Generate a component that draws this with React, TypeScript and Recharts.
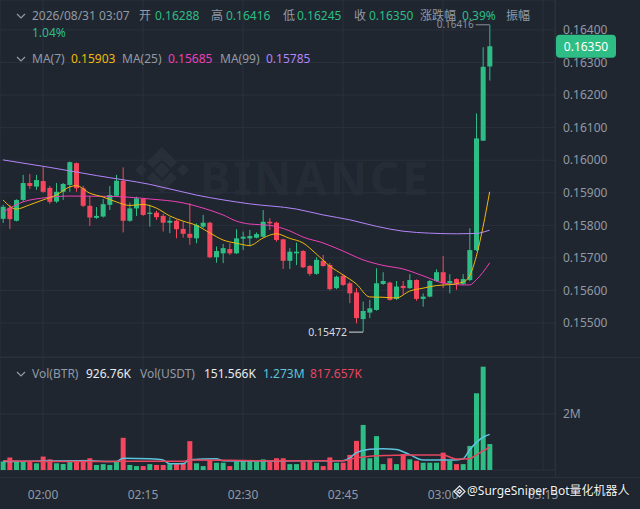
import React from "react"
import {
  Bar,
  CartesianGrid,
  Cell,
  ComposedChart,
  Line,
  ReferenceDot,
  XAxis,
  YAxis
} from "recharts"

const times = [
  "01:54", "01:55", "01:56", "01:57", "01:58", "01:59",
  "02:00", "02:01", "02:02", "02:03", "02:04", "02:05", "02:06", "02:07", "02:08", "02:09",
  "02:10", "02:11", "02:12", "02:13", "02:14", "02:15", "02:16", "02:17", "02:18", "02:19",
  "02:20", "02:21", "02:22", "02:23", "02:24", "02:25", "02:26", "02:27", "02:28", "02:29",
  "02:30", "02:31", "02:32", "02:33", "02:34", "02:35", "02:36", "02:37", "02:38", "02:39",
  "02:40", "02:41", "02:42", "02:43", "02:44", "02:45", "02:46", "02:47", "02:48", "02:49",
  "02:50", "02:51", "02:52", "02:53", "02:54", "02:55", "02:56", "02:57", "02:58", "02:59",
  "03:00", "03:01", "03:02", "03:03", "03:04", "03:05", "03:06", "03:07"
]

const opens = [
  0.1582, 0.15854, 0.15814, 0.15878, 0.1593, 0.15919, 0.15936, 0.15915, 0.15873, 0.15903,
  0.15924, 0.15991, 0.15914, 0.1586, 0.15823, 0.15827, 0.15863, 0.15891, 0.15937, 0.15814,
  0.15852, 0.15881, 0.15835, 0.15839, 0.15829, 0.15808, 0.15814, 0.15789, 0.15774, 0.1576,
  0.15796, 0.15808, 0.15702, 0.15714, 0.15727, 0.15714, 0.15759, 0.1576, 0.15762, 0.15765,
  0.15811, 0.15808, 0.15757, 0.15691, 0.15714, 0.15721, 0.15675, 0.15651, 0.15691, 0.15678,
  0.15607, 0.15645, 0.15622, 0.15594, 0.15512, 0.15532, 0.1554, 0.1562, 0.15624, 0.15574,
  0.15614, 0.15607, 0.15632, 0.15574, 0.15581, 0.15629, 0.15656, 0.15622, 0.15635, 0.1562,
  0.15632, 0.15724, 0.1606, 0.16288
]

const highs = [
  0.15863, 0.15863, 0.1588, 0.15955, 0.15958, 0.15955, 0.15979, 0.15921, 0.1593, 0.1593,
  0.15996, 0.15993, 0.15921, 0.1589, 0.15856, 0.15881, 0.15921, 0.15955, 0.15978, 0.1587,
  0.15888, 0.15884, 0.15863, 0.15845, 0.15835, 0.15825, 0.15818, 0.15811, 0.15868, 0.15806,
  0.15832, 0.15811, 0.15735, 0.15743, 0.15745, 0.15788, 0.15781, 0.15786, 0.15778, 0.15847,
  0.15822, 0.15811, 0.15759, 0.1573, 0.15747, 0.15724, 0.15678, 0.15702, 0.15709, 0.15684,
  0.15645, 0.15648, 0.15627, 0.15607, 0.15566, 0.15571, 0.15668, 0.15656, 0.15627, 0.15629,
  0.15629, 0.1565, 0.15634, 0.15591, 0.15632, 0.15665, 0.15706, 0.1565, 0.15637, 0.1565,
  0.15791, 0.16144, 0.16347, 0.16416
]

const lows = [
  0.15807, 0.15789, 0.15812, 0.15872, 0.15912, 0.15909, 0.159, 0.15866, 0.15869, 0.15878,
  0.15903, 0.15903, 0.15856, 0.15798, 0.1582, 0.15824, 0.15847, 0.15888, 0.15778, 0.15811,
  0.15829, 0.15829, 0.15796, 0.15817, 0.15781, 0.15776, 0.1576, 0.15762, 0.1574, 0.15745,
  0.15792, 0.15699, 0.15685, 0.15684, 0.15709, 0.15712, 0.15724, 0.15735, 0.1576, 0.15764,
  0.15786, 0.1575, 0.15666, 0.15666, 0.15678, 0.15669, 0.15645, 0.15648, 0.15673, 0.156,
  0.15604, 0.15614, 0.15561, 0.15499, 0.15472, 0.15515, 0.15538, 0.15617, 0.15569, 0.15571,
  0.15588, 0.15605, 0.15568, 0.1555, 0.15579, 0.15627, 0.15607, 0.15591, 0.15602, 0.15617,
  0.15629, 0.15721, 0.16059, 0.16245
]

const closes = [
  0.15857, 0.15819, 0.15878, 0.1593, 0.15921, 0.15939, 0.15903, 0.15872, 0.15903, 0.15927,
  0.15994, 0.15914, 0.1586, 0.15824, 0.15829, 0.15865, 0.15893, 0.15937, 0.15814, 0.15852,
  0.15883, 0.15832, 0.15839, 0.15825, 0.15808, 0.15814, 0.15788, 0.15774, 0.15762, 0.15801,
  0.15808, 0.15702, 0.15721, 0.1573, 0.15714, 0.1576, 0.15765, 0.15767, 0.15773, 0.15811,
  0.15806, 0.15755, 0.15691, 0.15719, 0.15719, 0.15671, 0.15651, 0.15694, 0.15675, 0.15604,
  0.15642, 0.15617, 0.15591, 0.15515, 0.15537, 0.15545, 0.15622, 0.15629, 0.15571, 0.15612,
  0.15607, 0.15632, 0.15574, 0.15581, 0.15629, 0.15656, 0.15622, 0.15629, 0.15622, 0.15635,
  0.15724, 0.16067, 0.16287, 0.1635
]

const volumes = [
  300000, 450000, 330000, 300000, 300000, 240000, 480000, 380000, 240000, 210000,
  300000, 300000, 360000, 420000, 180000, 210000, 180000, 300000, 1150000, 180000,
  140000, 140000, 210000, 180000, 180000, 210000, 210000, 260000, 1030000, 240000,
  140000, 360000, 260000, 260000, 140000, 300000, 330000, 330000, 300000, 380000,
  300000, 420000, 420000, 210000, 210000, 300000, 360000, 260000, 140000, 450000,
  260000, 260000, 540000, 1040000, 1610000, 420000, 1210000, 210000, 420000, 210000,
  570000, 380000, 330000, 260000, 260000, 260000, 620000, 330000, 210000, 210000,
  860000, 2740000, 3690000, 926760
]

// moving averages: [candle index, value]
const ma7Points = [
  [0, 0.15878], [2, 0.1585], [4, 0.15863], [6, 0.15878], [8, 0.15893], [10, 0.15918],
  [11, 0.15922], [13, 0.15899], [15, 0.15887], [17, 0.15872], [19, 0.15861], [21, 0.15864],
  [23, 0.15853], [25, 0.15829], [27, 0.15813], [29, 0.158], [31, 0.15777], [33, 0.15755],
  [35, 0.15745], [37, 0.15738], [39, 0.15761], [41, 0.15774], [43, 0.1576], [45, 0.15746],
  [47, 0.15712], [49, 0.15675], [51, 0.15648], [53, 0.1562], [55, 0.1558], [57, 0.15579],
  [59, 0.15577], [61, 0.15598], [63, 0.15607], [65, 0.15615], [67, 0.15618], [69, 0.15626],
  [70, 0.15645], [71, 0.15705], [72, 0.15795], [73, 0.15903]
]

const ma25Points = [
  [0, 0.15841], [3, 0.15872], [6, 0.15884], [10, 0.1589], [16, 0.15889], [22, 0.15881],
  [27, 0.15869], [30, 0.15853], [33, 0.15832], [35, 0.15813], [37, 0.15804], [40, 0.158],
  [43, 0.15783], [45, 0.15764], [48, 0.15746], [51, 0.15721], [54, 0.15694], [57, 0.15677],
  [60, 0.15666], [63, 0.15645], [66, 0.15623], [69, 0.15617], [70, 0.15617], [71, 0.15633],
  [72, 0.15656], [73, 0.15685]
]

const ma99Points = [
  [0, 0.16001], [7, 0.15978], [14, 0.15953], [22, 0.15926], [29, 0.15893], [37, 0.15866],
  [44, 0.1585], [48, 0.15832], [52, 0.15817], [56, 0.15797], [60, 0.15782], [64, 0.15776],
  [68, 0.15774], [71, 0.15775], [72, 0.15779], [73, 0.15785]
]

const volMa5Points = [
  [0, 300000], [6, 320000], [12, 330000], [17, 300000], [18, 420000], [22, 400000],
  [24, 360000], [25, 220000], [27, 220000], [28, 370000], [32, 400000], [33, 330000],
  [37, 320000], [44, 330000], [51, 330000], [52, 420000], [53, 620000], [55, 740000],
  [57, 760000], [59, 730000], [61, 550000], [63, 360000], [68, 360000], [69, 400000],
  [70, 720000], [72, 1170000], [73, 1273000]
]

const volMa10Points = [
  [0, 330000], [10, 300000], [20, 310000], [27, 310000], [28, 360000], [40, 330000],
  [51, 330000], [53, 440000], [55, 490000], [58, 520000], [61, 540000], [66, 540000],
  [68, 390000], [70, 400000], [71, 540000], [73, 817657]
]

const priceTicks = [0.155, 0.156, 0.157, 0.158, 0.159, 0.16, 0.161, 0.162, 0.163, 0.164]
const timeTicks = ["02:00", "02:15", "02:30", "02:45", "03:00", "03:15"]
const volTicks = [2000000]

const UP = "#2ebd85"
const DOWN = "#f6465d"
const BG = "#1f2630"
const GRID = "#2a313c"
const TEXT = "#929aa5"
const MA7 = "#f0b90b"
const MA25 = "#eb40b5"
const MA99 = "#b385f8"
const VMA5 = "#5cc4dc"
const VMA10 = "#e8455f"
const FONT = '"Noto Sans", "Noto Sans CJK SC", sans-serif'

const toMin = (t: string) => {
  const [h, m] = t.split(":").map(Number)
  return h * 60 + m
}
const fromMin = (v: number) =>
  `${String(Math.floor(v / 60)).padStart(2, "0")}:${String(v % 60).padStart(2, "0")}`

const X_DOMAIN = [toMin("01:54") - 0.45, toMin("03:07") + 9.8]
const PRICE_DOMAIN = [0.1539556, 0.1649215]
const VOL_DOMAIN = [0, 4035714]

type Row = {
  t: number
  open: number
  high: number
  low: number
  close: number
  range: number[]
  vol: number
  ma7: number | null
  ma25: number | null
  ma99: number | null
  vma5: number | null
  vma10: number | null
}

const rows: Row[] = times.map((time, i) => ({
  t: toMin(time),
  open: opens[i],
  high: highs[i],
  low: lows[i],
  close: closes[i],
  range: [lows[i], highs[i]],
  vol: volumes[i],
  ma7: null,
  ma25: null,
  ma99: null,
  vma5: null,
  vma10: null
}))
ma7Points.forEach(([i, v]) => (rows[i].ma7 = v))
ma25Points.forEach(([i, v]) => (rows[i].ma25 = v))
ma99Points.forEach(([i, v]) => (rows[i].ma99 = v))
volMa5Points.forEach(([i, v]) => (rows[i].vma5 = v))
volMa10Points.forEach(([i, v]) => (rows[i].vma10 = v))

const last = rows[rows.length - 1]
const maxHigh = Math.max(...highs)
const minLow = Math.min(...lows)
const maxRow = rows[highs.indexOf(maxHigh)]
const minRow = rows[lows.indexOf(minLow)]

function Candle(props: any) {
  const { x, y, width, height, payload } = props
  if (!payload || height == null) return null
  const { open, close, high, low } = payload
  const top = Math.min(y, y + height)
  const h = Math.abs(height)
  const k = h / (high - low || 1)
  const py = (p: number) => top + (high - p) * k
  const color = close >= open ? UP : DOWN
  const bTop = py(Math.max(open, close))
  const bBot = py(Math.min(open, close))
  const cx = x + width / 2
  return (
    <g>
      <line x1={cx} x2={cx} y1={top} y2={top + h} stroke={color} strokeWidth={1} />
      <rect x={x} y={bTop} width={width} height={Math.max(1, bBot - bTop)} fill={color} />
    </g>
  )
}

function HighMark(props: any) {
  const { cx, cy } = props
  return (
    <g>
      <line x1={cx - 14} x2={cx} y1={cy} y2={cy} stroke="#8a919c" strokeWidth={1} />
      <text x={cx - 16} y={cy} dy="0.35em" textAnchor="end" fontSize={10} fill="#8a919c" fontFamily={FONT}>
        {maxHigh.toFixed(5)}
      </text>
    </g>
  )
}

function LowMark(props: any) {
  const { cx, cy } = props
  return (
    <g>
      <line x1={cx - 14} x2={cx} y1={cy} y2={cy} stroke="#d8dce1" strokeWidth={1} />
      <text x={cx - 16} y={cy} dy="0.35em" textAnchor="end" fontSize={10.5} fill="#d8dce1" fontFamily={FONT}>
        {minLow.toFixed(5)}
      </text>
    </g>
  )
}

function PriceTag(props: any) {
  const { cx, cy } = props
  return (
    <g>
      <rect x={cx + 1} y={cy - 11.5} width={60} height={23} rx={4} fill={UP} />
      <text x={cx + 31} y={cy} dy="0.36em" textAnchor="middle" fontSize={12} fill="#ffffff" fontFamily={FONT}>
        {last.close.toFixed(5)}
      </text>
    </g>
  )
}

function Chevron({ top }: { top: number }) {
  return (
    <svg style={{ position: "absolute", left: 16, top: top - 3 }} width={10} height={7}>
      <polyline points="1,1 5,5 9,1" fill="none" stroke={TEXT} strokeWidth={1.2} />
    </svg>
  )
}

function Label({ text, left, top, color }: { text: string; left: number; top: number; color: string }) {
  return (
    <span
      style={{
        position: "absolute",
        left,
        top: top - 8,
        lineHeight: "16px",
        fontSize: 12,
        color,
        whiteSpace: "nowrap"
      }}
    >
      {text}
    </span>
  )
}

function Watermark() {
  const cx = 162
  const cy = 170
  const fill = "rgba(255,255,255,0.045)"
  const d = (x: number, y: number, r: number) =>
    `${x},${y - r} ${x + r},${y} ${x},${y + r} ${x - r},${y}`
  return (
    <svg style={{ position: "absolute", left: 0, top: 0 }} width={555} height={357}>
      <polygon points={d(cx, cy, 8)} fill={fill} />
      <polygon points={d(cx - 21, cy, 6)} fill={fill} />
      <polygon points={d(cx + 21, cy, 6)} fill={fill} />
      <polygon
        points={`${cx},${cy - 23} ${cx + 15},${cy - 8} ${cx + 9},${cy - 2} ${cx},${cy - 11} ${cx - 9},${cy - 2} ${cx - 15},${cy - 8}`}
        fill={fill}
      />
      <polygon
        points={`${cx},${cy + 23} ${cx + 15},${cy + 8} ${cx + 9},${cy + 2} ${cx},${cy + 11} ${cx - 9},${cy + 2} ${cx - 15},${cy + 8}`}
        fill={fill}
      />
      <text x={200} y={195} fontSize={46} fontWeight={700} fill={fill} fontFamily={FONT} textLength={228}>
        BINANCE
      </text>
    </svg>
  )
}

const axisTick = { fill: TEXT, fontSize: 12, fontFamily: FONT }

export default function App() {
  return (
    <div
      style={{
        position: "absolute",
        left: 0,
        top: 0,
        width: 640,
        height: 509,
        background: BG,
        overflow: "hidden",
        fontFamily: FONT
      }}
    >
      <Watermark />

      <div style={{ position: "absolute", left: 0, top: 0 }}>
        <ComposedChart width={640} height={357} data={rows} margin={{ top: 0, right: 0, bottom: 0, left: 0 }}>
          <CartesianGrid stroke={GRID} strokeWidth={1} />
          <XAxis dataKey="t" type="number" domain={X_DOMAIN} ticks={timeTicks.map(toMin)} hide allowDataOverflow />
          <YAxis
            orientation="right"
            width={85}
            domain={PRICE_DOMAIN}
            ticks={priceTicks}
            allowDataOverflow
            axisLine={false}
            tickLine={false}
            tick={axisTick}
            interval={0}
            tickFormatter={(v: number) => v.toFixed(5)}
          />
          <Bar dataKey="range" barSize={5} shape={<Candle />} activeBar={false} isAnimationActive={false} />
          <Line dataKey="ma99" type="monotone" stroke={MA99} strokeWidth={1} dot={false} activeDot={false} connectNulls isAnimationActive={false} />
          <Line dataKey="ma25" type="monotone" stroke={MA25} strokeWidth={1} dot={false} activeDot={false} connectNulls isAnimationActive={false} />
          <Line dataKey="ma7" type="monotone" stroke={MA7} strokeWidth={1} dot={false} activeDot={false} connectNulls isAnimationActive={false} />
          <ReferenceDot x={maxRow.t} y={maxHigh} ifOverflow="visible" shape={<HighMark />} />
          <ReferenceDot x={minRow.t} y={minLow} ifOverflow="visible" shape={<LowMark />} />
          <ReferenceDot x={X_DOMAIN[1]} y={last.close} ifOverflow="visible" shape={<PriceTag />} />
        </ComposedChart>
      </div>

      <div style={{ position: "absolute", left: 0, top: 357 }}>
        <ComposedChart width={640} height={152} data={rows} margin={{ top: 0, right: 0, bottom: 0, left: 0 }}>
          <CartesianGrid stroke={GRID} strokeWidth={1} />
          <XAxis
            dataKey="t"
            type="number"
            domain={X_DOMAIN}
            ticks={timeTicks.map(toMin)}
            interval={0}
            allowDataOverflow
            height={39}
            axisLine={false}
            tickLine={false}
            tickMargin={14}
            tick={axisTick}
            tickFormatter={(v: number) => fromMin(v)}
          />
          <YAxis
            orientation="right"
            width={85}
            domain={VOL_DOMAIN}
            ticks={volTicks}
            allowDataOverflow
            axisLine={false}
            tickLine={false}
            tick={axisTick}
            tickFormatter={(v: number) => `${v / 1000000}M`}
          />
          <Bar dataKey="vol" barSize={5} activeBar={false} isAnimationActive={false}>
            {rows.map((r, i) => (
              <Cell key={i} fill={r.close >= r.open ? UP : DOWN} />
            ))}
          </Bar>
          <Line dataKey="vma5" type="monotone" stroke={VMA5} strokeWidth={1.5} dot={false} activeDot={false} connectNulls isAnimationActive={false} />
          <Line dataKey="vma10" type="monotone" stroke={VMA10} strokeWidth={1.5} dot={false} activeDot={false} connectNulls isAnimationActive={false} />
        </ComposedChart>
      </div>

      {/* pane separators */}
      <div style={{ position: "absolute", left: 0, top: 357, width: 640, height: 1, background: GRID }} />
      <div style={{ position: "absolute", left: 0, top: 477, width: 640, height: 1, background: GRID }} />
      <div style={{ position: "absolute", left: 555, top: 0, width: 1, height: 477, background: GRID }} />

      <Chevron top={16} />
      <Label text="2026/08/31 03:07" left={32} top={16} color={TEXT} />
      <Label text="开" left={139} top={16} color={TEXT} />
      <Label text="0.16288" left={155} top={16} color={UP} />
      <Label text="高" left={211} top={16} color={TEXT} />
      <Label text="0.16416" left={226} top={16} color={UP} />
      <Label text="低" left={283} top={16} color={TEXT} />
      <Label text="0.16245" left={297} top={16} color={UP} />
      <Label text="收" left={354} top={16} color={TEXT} />
      <Label text="0.16350" left={369} top={16} color={UP} />
      <Label text="涨跌幅" left={420} top={16} color={TEXT} />
      <Label text="0.39%" left={462} top={16} color={UP} />
      <Label text="振幅" left={506} top={16} color={TEXT} />
      <Label text="1.04%" left={32} top={33} color={UP} />

      <Chevron top={59} />
      <Label text="MA(7)" left={32} top={59} color={TEXT} />
      <Label text="0.15903" left={71} top={59} color={MA7} />
      <Label text="MA(25)" left={122} top={59} color={TEXT} />
      <Label text="0.15685" left={168} top={59} color={MA25} />
      <Label text="MA(99)" left={220} top={59} color={TEXT} />
      <Label text="0.15785" left={266} top={59} color={MA99} />

      <Chevron top={374} />
      <Label text="Vol(BTR)" left={32} top={374} color={TEXT} />
      <Label text="926.76K" left={86} top={374} color="#eaecef" />
      <Label text="Vol(USDT)" left={140} top={374} color={TEXT} />
      <Label text="151.566K" left={204} top={374} color="#eaecef" />
      <Label text="1.273M" left={263} top={374} color={VMA5} />
      <Label text="817.657K" left={310} top={374} color={VMA10} />

      <svg style={{ position: "absolute", left: 453, top: 485 }} width={13} height={13}>
        <g fill="none" stroke="#e6e8eb" strokeWidth={1.2}>
          <polygon points="6.5,1 12,6.5 6.5,12 1,6.5" />
          <polygon points="6.5,4.5 8.5,6.5 6.5,8.5 4.5,6.5" />
        </g>
      </svg>
      <span
        style={{
          position: "absolute",
          left: 467,
          top: 483,
          lineHeight: "16px",
          fontSize: 12,
          color: "#f2f3f5",
          whiteSpace: "nowrap",
          textShadow: "0 0 2px rgba(0,0,0,0.6)"
        }}
      >
        @SurgeSniper Bot量化机器人
      </span>
    </div>
  )
}
